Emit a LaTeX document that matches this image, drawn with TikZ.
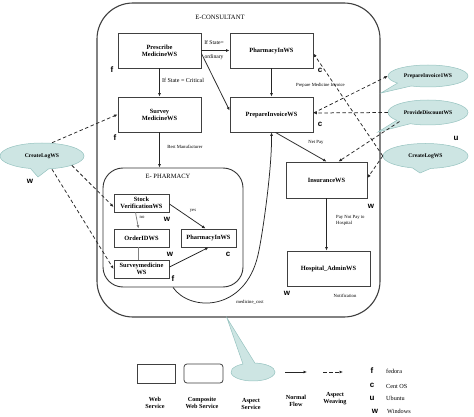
\documentclass[tikz,border=0pt]{standalone}
\usepackage{fontspec}
\setmainfont{Liberation Serif}
\newfontfamily\markfont{Liberation Sans}
\usetikzlibrary{shapes.callouts,shapes.geometric,arrows.meta,calc}
\definecolor{aspfill}{RGB}{205,229,227}
\definecolor{aspdraw}{RGB}{150,195,192}
\newcommand\wsfont{\fontsize{6.4}{7}\selectfont\bfseries}
\begin{document}
\begin{tikzpicture}[x=1pt,y=-1pt,
 every node/.style={inner sep=0pt},
 ws/.style={draw=black!75, line width=0.9pt, fill=white, align=center, font=\wsfont, minimum width=83pt, minimum height=35pt},
 sws/.style={ws, minimum width=55pt, minimum height=18pt},
 lbl/.style={font=\fontsize{4.7}{5.4}\selectfont, align=left},
 mk/.style={font=\markfont\bfseries\fontsize{8}{8}\selectfont},
 flow/.style={draw=black!85, line width=0.75pt, -{Latex[length=3.5pt,width=3pt]}},
 weave/.style={flow, dash pattern=on 3.5pt off 2.5pt},
 aspect/.style={ellipse callout, draw=aspdraw, fill=aspfill, line width=0.5pt, font=\fontsize{5.6}{6.5}\selectfont\bfseries, callout pointer arc=25},
 lgl/.style={font=\fontsize{6.2}{7}\selectfont\bfseries, align=center},
 lgt/.style={font=\fontsize{6.2}{7}\selectfont, anchor=west},
]
\useasboundingbox (0,0) rectangle (474,417);
\fill[white] (0,0) rectangle (474,417);

% containers
\node[draw=black!75, line width=1.1pt, rounded corners=36pt, minimum width=283pt, minimum height=314pt] (econs) at (238.5,160) {};
\node[font=\fontsize{6.6}{7}\selectfont] (econstitle) at (220,17) {E-CONSULTANT};
\node[draw=black!80, line width=0.9pt, rounded corners=20pt, minimum width=140pt, minimum height=119pt] (epharm) at (173,227.5) {};
\node[font=\fontsize{6.5}{7}\selectfont] (epharmtitle) at (168,176) {E- PHARMACY};

% web services
\node[ws] (prescribe) at (159.5,50.5) {Prescribe\\MedicineWS};
\node[ws] (pharm) at (271.5,50.5) {PharmacyInWS};
\node[ws] (survey) at (159.5,114.5) {Survey\\MedicineWS};
\node[ws] (prep) at (271.5,114.5) {PrepareInvoiceWS};
\node[ws, minimum width=81pt, minimum height=36pt] (insurance) at (326.5,180) {InsuranceWS};
\node[ws] (hospital) at (328.5,268.5) {Hospital\_AdminWS};
\node[sws] (stock) at (141.5,203) {Stock\\VerificationWS};
\node[sws] (orderid) at (141.5,238) {OrderIDWS};
\node[sws] (pharmin) at (208.5,238) {PharmacyInWS};
\node[sws] (surveymed) at (141.5,269) {Surveymedicine\\WS};

% aspect services
\node[aspect, minimum width=84pt, minimum height=26pt, callout absolute pointer={(38,177)}] (clogL) at (42,156) {CreateLogWS};
\node[aspect, minimum width=80pt, minimum height=22pt, callout absolute pointer={(381,93)}] (prepinv1) at (428,76) {PrepareInvoice1WS};
\node[aspect, minimum width=80pt, minimum height=25pt, callout absolute pointer={(378,132)}] (provdisc) at (428,112.5) {ProvideDiscountWS};
\node[aspect, minimum width=85pt, minimum height=25pt, callout absolute pointer={(420,173)}] (clogR) at (425.5,156) {CreateLogWS};

% normal flows
\draw[flow] (prescribe.east) -- (pharm.west);
\node[lbl, font=\fontsize{5.6}{6}\selectfont] (l1) at (214,43) {If State=};
\node[lbl, font=\fontsize{5.6}{6}\selectfont] (l2) at (214,57) {ordinary};
\draw[flow] ([yshift=-3pt]prescribe.east) -- ([yshift=4pt]prep.west);
\draw[flow] (prescribe.south) -- (survey.north);
\node[lbl, font=\fontsize{6}{6.5}\selectfont] (l3) at (183,80) {If State = Critical};
\draw[flow] (pharm.south) -- (prep.north);
\node[lbl] (l4) at (320.5,85) {Prepare Medicine Invoice};
\draw[flow] (survey.south) -- (survey.south |- epharm.north);
\node[lbl] (l5) at (185,147) {Best Manufacturer};
\draw[flow, draw=black!50] ([xshift=-6pt]stock.south) -- ([xshift=-3pt]orderid.north);
\node[lbl] (l6) at (142,217) {no};
\draw[flow] ([yshift=-1pt]stock.east) -- ([xshift=-3pt]pharmin.north);
\node[lbl] (l7) at (193,211) {yes};
\draw[draw=black!50, line width=0.7pt] ([xshift=-3pt]orderid.south) -- ([xshift=-3pt]surveymed.north);
\draw[flow] ([yshift=2pt]surveymed.east) -- (pharmin.south);
\draw[flow] (epharm.south) .. controls (190,312) and (245,312) .. (258,255) .. controls (262,238) and (272,170) .. (prep.south);
\node[lbl] (l8) at (250,302) {medicine\_cost};
\draw[flow] ([xshift=4pt]prep.south) -- (insurance.north);
\node[lbl] (l9) at (316,142) {Net Pay};
\draw[flow] (insurance.south) -- (insurance.south |- hospital.north);
\node[lbl, anchor=north west] (l10) at (336,215.5) {Pay Not Pay to\\Hospital};
\node[lbl] (l11) at (345,296) {Notification};

% aspect weaving
\draw[weave] ($(clogL.north)+(10,0)$) -- (survey.west);
\draw[weave] (clogL.south east) -- ([yshift=-4pt]stock.west);
\draw[weave] ($(clogL.south)+(10,0)$) -- (surveymed.west);
\draw[weave] ([yshift=1.5pt]prep.east) -- (prepinv1.west);
\draw[weave] (provdisc.west) -- ([yshift=1.5pt]prep.east);
\draw[weave] (provdisc.south west) -- ([xshift=12pt]insurance.north);
\draw[weave] (clogR.west) -- ([yshift=-3pt]pharm.east);
\draw[weave] (clogR.west) -- ([yshift=2pt]insurance.east);

% platform markers
\node[mk] (m1) at (112,70) {f};
\node[mk] (m2) at (320,70) {c};
\node[mk] (m3) at (320,124) {c};
\node[mk] (m4) at (115,138) {f};
\node[mk] (m5) at (371,206) {w};
\node[mk] (m6) at (167,219) {w};
\node[mk] (m7) at (170,254) {w};
\node[mk] (m8) at (228,254) {c};
\node[mk] (m9) at (173,279) {f};
\node[mk] (m10) at (287,293) {w};
\node[mk] (m11) at (30,181) {w};
\node[mk] (m12) at (456,138) {u};

% legend
\node[draw=black!75, line width=0.8pt, minimum width=38pt, minimum height=19pt] (lgws) at (156,373.5) {};
\node[draw=black!75, line width=0.8pt, rounded corners=3pt, minimum width=39pt, minimum height=19pt] (lgcws) at (203.5,373.5) {};
\node[aspect, minimum width=44pt, minimum height=18pt, callout pointer arc=32, callout absolute pointer={(227,318)}] (lgasp) at (253,372) {};
\coordinate (nf1) at (285,372);
\coordinate (nf2) at (307,372);
\draw[flow] (nf1) -- (nf2);
\coordinate (aw1) at (323,372);
\coordinate (aw2) at (343,372);
\draw[weave] (aw1) -- (aw2);
\node[lgl] (t1) at (155,403) {Web\\Service};
\node[lgl] (t2) at (202,402.5) {Composite\\Web Service};
\node[lgl] (t3) at (251,403.5) {Aspect\\Service};
\node[lgl] (t4) at (296,400.5) {Normal\\Flow};
\node[lgl] (t5) at (335,399) {Aspect\\Weaving};
\node[mk] (k1) at (372,371) {f};
\node[lgt] (k1t) at (386,371) {fedora};
\node[mk] (k2) at (372,385) {c};
\node[lgt] (k2t) at (386,386) {Cent OS};
\node[mk] (k3) at (372,398) {u};
\node[lgt] (k3t) at (386,398) {Ubuntu};
\node[mk] (k4) at (375,411) {w};
\node[lgt] (k4t) at (387,411) {Windows};
\end{tikzpicture}
\end{document}
